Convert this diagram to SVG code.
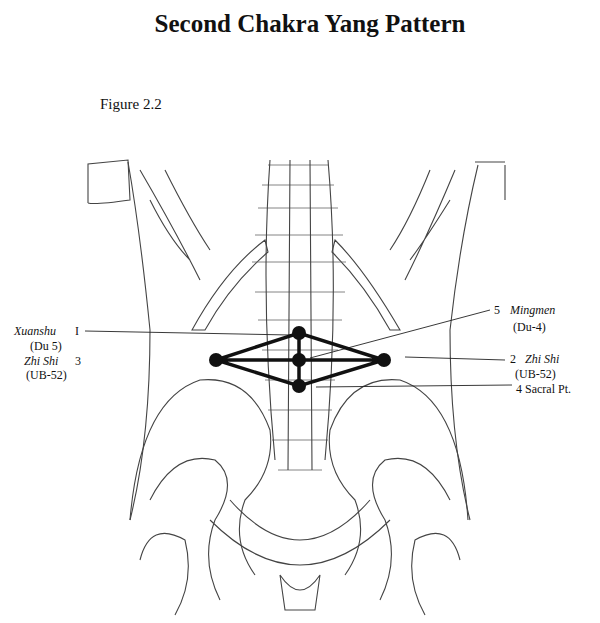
<svg xmlns="http://www.w3.org/2000/svg" width="600" height="623" viewBox="0 0 600 623">
<style>
.t{font-family:"Liberation Serif",serif;fill:#111}
.i{font-style:italic}
.a{fill:none;stroke:#444;stroke-width:1.1}
.b{fill:none;stroke:#666;stroke-width:0.8}
.l{stroke:#222;stroke-width:0.9}
.k{stroke:#111;stroke-width:3.5;stroke-linecap:round}
</style>
<rect width="600" height="623" fill="#fff"/>
<text x="310" y="32" text-anchor="middle" class="t" font-size="25" font-weight="bold">Second Chakra Yang Pattern</text>
<text x="100" y="109" class="t" font-size="15">Figure 2.2</text>
<g id="body">
<path class="a" d="M88 203 L88 164 L128 160 L130 200 Q95 205 88 203"/>
<path class="a" d="M128 162 Q140 230 150 330 Q150 440 130 520"/>
<path class="a" d="M505 165 L505 200 M475 162 L505 162 M478 165 Q460 240 450 330 Q450 440 470 520"/>
<path class="a" d="M140 170 Q175 230 200 280 M150 200 Q170 240 190 260 M165 170 Q190 220 210 250 M455 170 Q430 230 405 280 M450 200 Q425 240 410 260 M430 170 Q410 220 390 250"/>
<path class="a" d="M192 330 Q225 270 265 240 L268 252 Q230 285 205 330 Z M400 330 Q365 270 335 240 L332 252 Q365 285 390 330 Z"/>
<path class="b" d="M268 165 h60 M262 185 h72 M258 208 h80 M255 235 h88 M252 262 h94 M255 292 h90 M258 320 h84 M262 350 h76 M265 380 h70 M268 410 h64 M272 440 h56 M278 470 h44"/>
<path class="a" d="M270 160 Q260 300 275 460 M328 160 Q340 300 325 460 M290 160 L288 470 M310 160 L312 470"/>
<path class="a" d="M130 520 Q140 400 200 380 Q250 375 270 430 Q275 470 245 500 Q230 540 255 575 M468 520 Q460 400 400 380 Q350 375 330 430 Q325 470 355 500 Q370 540 345 575"/>
<path class="a" d="M210 520 Q300 610 390 520 M230 500 Q300 580 370 500 M150 500 Q175 450 215 460 Q240 480 215 520 Q200 560 220 600 M450 500 Q425 450 385 460 Q360 480 385 520 Q400 560 380 600"/>
<path class="a" d="M140 560 Q150 520 185 540 Q195 580 175 615 M460 560 Q450 520 415 540 Q405 580 425 615 M280 575 Q300 605 320 575 L315 610 L285 610 Z"/>
</g>
<g id="connectors">
<line class="l" x1="85" y1="331" x2="290" y2="335"/>
<line class="l" x1="490" y1="310" x2="310" y2="358"/>
<line class="l" x1="405" y1="357" x2="505" y2="360"/>
<line class="l" x1="316" y1="387" x2="512" y2="385"/>
<path class="k" fill="none" d="M216 360 L299 333 L384 360 L299 386 Z M216 360 H384 M299 333 V386"/>
</g>
<g id="points" fill="#111">
<circle cx="299" cy="333" r="7"/><circle cx="299" cy="360" r="7"/><circle cx="299" cy="386" r="7"/><circle cx="216" cy="360" r="7"/><circle cx="384" cy="360" r="7"/>
</g>
<g id="labels" font-size="12">
<text x="14" y="335" class="t i">Xuanshu</text><text x="75" y="335" class="t">I</text>
<text x="30" y="350" class="t">(Du 5)</text>
<text x="24" y="365" class="t i">Zhi Shi</text><text x="75" y="365" class="t">3</text>
<text x="26" y="379" class="t">(UB-52)</text>
<text x="494" y="314" class="t">5</text><text x="510" y="314" class="t i">Mingmen</text>
<text x="513" y="331" class="t">(Du-4)</text>
<text x="510" y="363" class="t">2</text><text x="525" y="363" class="t i">Zhi Shi</text>
<text x="515" y="378" class="t">(UB-52)</text>
<text x="516" y="393" class="t">4  Sacral Pt.</text>
</g>
</svg>
